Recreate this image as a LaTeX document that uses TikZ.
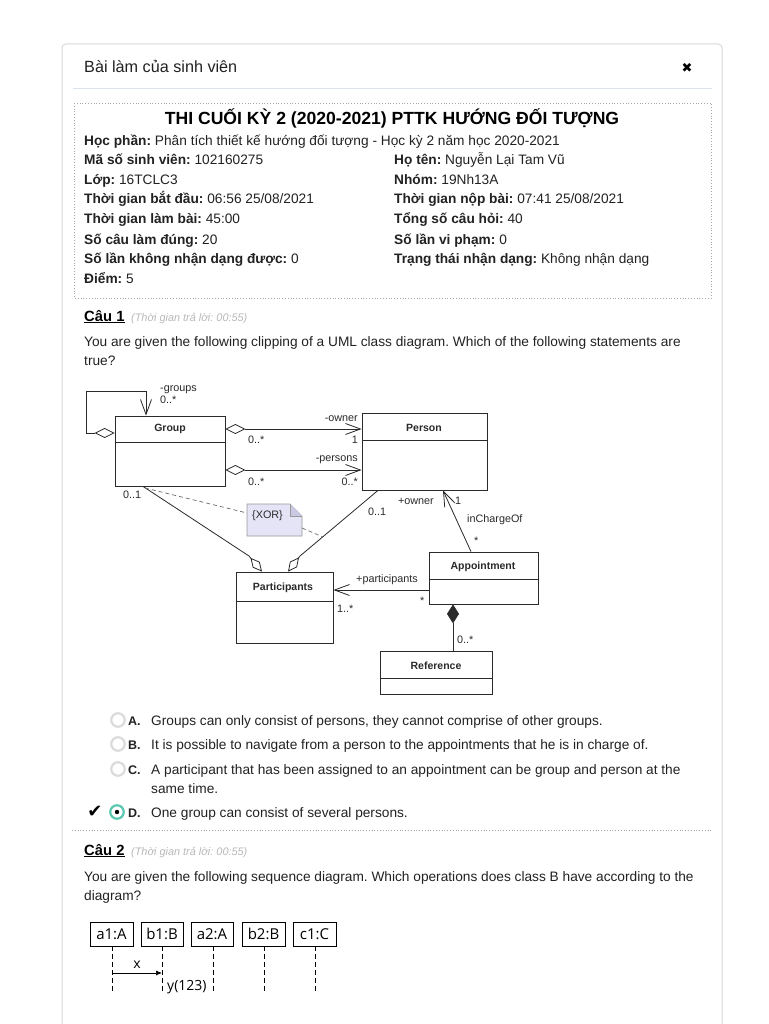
\documentclass[tikz,border=0pt]{standalone}
\usepackage{fontspec}
\setmainfont{Liberation Sans}
\newfontfamily\djv{DejaVu Sans}
\newfontfamily\seqf{Open Sans}
\usetikzlibrary{arrows.meta}
\definecolor{txt}{HTML}{222222}
\definecolor{uml}{HTML}{2A2A2A}
\definecolor{cardline}{HTML}{D6D9DD}
\definecolor{sepline}{HTML}{DDE3EA}
\definecolor{notefill}{HTML}{E4E4F6}
\definecolor{notefold}{HTML}{C9C9E4}
\definecolor{teal}{HTML}{5CC8B2}
\frenchspacing
\begin{document}
\frenchspacing
\begin{tikzpicture}[x=1pt,y=-1pt,
  t13/.style={anchor=base west, inner sep=0pt, font=\fontsize{13.7}{16}\selectfont, text=txt},
  lett/.style={anchor=base west, inner sep=0pt, font=\bfseries\fontsize{12.5}{15}\selectfont, text=txt},
  lbl/.style={anchor=base west, inner sep=0pt, font=\fontsize{10.8}{13}\selectfont, text=uml},
  clsname/.style={inner sep=0pt, font=\bfseries\fontsize{10.5}{12}\selectfont, text=uml},
  cls/.style={draw=uml, line width=0.8pt, inner sep=0pt, fill=white},
  umlline/.style={draw=uml, line width=0.8pt},
  assoc/.style={umlline, -{Straight Barb[length=15pt,width=11pt]}},
  agg/.style={umlline, {Diamond[open,length=20pt,width=10pt]}-{Straight Barb[length=15pt,width=11pt]}},
  xordash/.style={draw=uml!70, line width=0.7pt, dash pattern=on 4pt off 3pt},
  radio/.style={circle, draw=gray!28, line width=2.2pt, minimum size=13.5pt, inner sep=0pt},
  seqbox/.style={draw=black, line width=0.7pt, inner sep=0pt, minimum height=24pt, font=\seqf\fontsize{15}{18}\selectfont},
  lifeline/.style={draw=black, line width=0.7pt, dash pattern=on 5pt off 3pt},
  seqlbl/.style={inner sep=0pt, font=\seqf\fontsize{14}{17}\selectfont}
]
\useasboundingbox (0,0) rectangle (768,1024);
\fill[white] (0,0) rectangle (768,1024);

% card
\draw[cardline, line width=1pt, rounded corners=4pt] (62,44) rectangle (722,1060);
\node[anchor=base west, inner sep=0pt, font=\fontsize{16.2}{19}\selectfont, text=txt] (hdr) at (84,72.5) {Bài làm của sinh viên};
\node[inner sep=0pt, font=\djv\fontsize{13}{15}\selectfont] (close) at (687,68) {✖};
\draw[sepline, line width=1pt] (73,89) -- (712,89);

% info box
\draw[gray!70, line width=0.8pt, dotted] (74,103) rectangle (711,298);
\node[anchor=base, inner sep=0pt, font=\bfseries\fontsize{17.6}{20}\selectfont, text=black] (title) at (392,124.5) {THI CUỐI KỲ 2 (2020-2021) PTTK HƯỚNG ĐỐI TƯỢNG};
\node[t13] (r1) at (84,146) {\textbf{Học phần:} Phân tích thiết kế hướng đối tượng - Học kỳ 2 năm học 2020-2021};
\node[t13] (r2) at (84,165) {\textbf{Mã số sinh viên:} 102160275};
\node[t13] (r3) at (84,185) {\textbf{Lớp:} 16TCLC3};
\node[t13] (r4) at (84,204) {\textbf{Thời gian bắt đầu:} 06:56 25/08/2021};
\node[t13] (r5) at (84,224) {\textbf{Thời gian làm bài:} 45:00};
\node[t13] (r6) at (84,244) {\textbf{Số câu làm đúng:} 20};
\node[t13] (r7) at (84,263) {\textbf{Số lần không nhận dạng được:} 0};
\node[t13] (r8) at (84,283) {\textbf{Điểm:} 5};
\node[t13] (s2) at (394,165) {\textbf{Họ tên:} Nguyễn Lại Tam Vũ};
\node[t13] (s3) at (394,185) {\textbf{Nhóm:} 19Nh13A};
\node[t13] (s4) at (394,204) {\textbf{Thời gian nộp bài:} 07:41 25/08/2021};
\node[t13] (s5) at (394,224) {\textbf{Tổng số câu hỏi:} 40};
\node[t13] (s6) at (394,244) {\textbf{Số lần vi phạm:} 0};
\node[t13] (s7) at (394,263) {\textbf{Trạng thái nhận dạng:} Không nhận dạng};

% question 1
\node[anchor=base west, inner sep=0pt, font=\bfseries\fontsize{14.8}{17}\selectfont, text=black] (q1) at (84,321) {\underline{Câu 1}};
\node[anchor=base west, inner sep=0pt, font=\itshape\fontsize{10.9}{13}\selectfont, text=gray!55] (q1t) at (131,321) {(Thời gian trả lời: 00:55)};
\node[t13] (q1a) at (84,346) {You are given the following clipping of a UML class diagram. Which of the following statements are};
\node[t13] (q1b) at (84,365) {true?};

% UML classes
\node[cls, minimum width=110pt, minimum height=70pt] (group) at (170,451) {};
\draw[umlline] (group.west |- 0,442) -- (group.east |- 0,442);
\node[clsname] (groupn) at (170,429) {Group};

\node[cls, minimum width=125pt, minimum height=77pt] (person) at (424.5,451.5) {};
\draw[umlline] (person.west |- 0,440) -- (person.east |- 0,440);
\node[clsname] (personn) at (424,428) {Person};

\node[cls, minimum width=97pt, minimum height=71pt] (part) at (284.5,607.5) {};
\draw[umlline] (part.west |- 0,601) -- (part.east |- 0,601);
\node[clsname] (partn) at (283,588) {Participants};

\node[cls, minimum width=109pt, minimum height=52pt] (appt) at (483.5,578) {};
\draw[umlline] (appt.west |- 0,579) -- (appt.east |- 0,579);
\node[clsname] (apptn) at (483,567) {Appointment};

\node[cls, minimum width=112pt, minimum height=43pt] (ref) at (436,672.5) {};
\draw[umlline] (ref.west |- 0,678) -- (ref.east |- 0,678);
\node[clsname] (refn) at (436,666) {Reference};

% self loop on Group
\coordinate (lp1) at (86,433);
\coordinate (lp2) at (86,391);
\coordinate (lp3) at (146,391);
\draw[agg] (group.west |- 0,433) -- (lp1) -- (lp2) -- (lp3) -- (group.north -| 146,0);
\node[lbl] (lgroups) at (160,391) {-groups};
\node[lbl] (lgroups2) at (160,403) {0..*};

% Group -> Person
\draw[agg] (group.east |- 0,429) -- (person.west |- 0,429);
\draw[agg] (group.east |- 0,470) -- (person.west |- 0,470);
\node[lbl, anchor=base east] (lowner) at (358,421) {-owner};
\node[lbl, anchor=base east] (lone) at (358,443) {1};
\node[lbl] (lm1) at (248,443) {0..*};
\node[lbl, anchor=base east] (lpersons) at (358,461) {-persons};
\node[lbl, anchor=base east] (lm2) at (358,485) {0..*};
\node[lbl] (lm3) at (248,485) {0..*};

% Group / Person -> Participants (aggregation)
\coordinate (dg) at (249,556);
\coordinate (dp) at (300,556);
\draw[umlline, {Diamond[open,length=18pt,width=9pt]}-] (part.north -| 262,0) -- (dg) -- (group.south -| 143,0);
\draw[umlline, {Diamond[open,length=18pt,width=9pt]}-] (part.north -| 288,0) -- (dp) -- (person.south -| 378,0);
\node[lbl] (l01a) at (123,498) {0..1};
\node[lbl] (l01b) at (368,515) {0..1};

% XOR note
\fill[notefill] (247,504) -- (290,504) -- (302,516) -- (302,536) -- (247,536) -- cycle;
\draw[gray!80, line width=0.6pt] (247,504) -- (290,504) -- (302,516) -- (302,536) -- (247,536) -- cycle;
\fill[notefold] (290,504) -- (290,516) -- (302,516) -- cycle;
\draw[gray!80, line width=0.6pt] (290,504) -- (290,516) -- (302,516);
\node[lbl, text=uml] (xor) at (252,518) {\{XOR\}};
\coordinate (xs) at (145,488);
\coordinate (xe) at (323,537);
\draw[xordash] (xs) -- (247,513);
\draw[xordash] (302,528) -- (xe);

% Appointment -> Person (inChargeOf)
\draw[assoc] (appt.north -| 471,0) -- (person.south -| 443,0);
\node[lbl, anchor=base east] (lplusowner) at (434,504) {+owner};
\node[lbl] (lone2) at (455,504) {1};
\node[lbl] (lincharge) at (467,522) {inChargeOf};
\node[lbl] (lstar1) at (474,544) {*};

% Appointment -> Participants
\draw[assoc] (appt.west |- 0,590) -- (part.east |- 0,590);
\node[lbl] (lplusp) at (356,582) {+participants};
\node[lbl] (l1s) at (337,612) {1..*};
\node[lbl] (lstar2) at (420,604) {*};

% composition Appointment -> Reference
\draw[umlline, {Diamond[length=19pt,width=12pt]}-] (appt.south -| 453,0) -- (ref.north -| 453,0);
\node[lbl] (l0s) at (457,643) {0..*};

% answers
\node[radio] (ra) at (118,720) {};
\node[radio] (rb) at (118,744) {};
\node[radio] (rc) at (118,769) {};
\node[radio, draw=teal] (rd) at (117,812) {};
\fill[black] (rd.center) circle (2.2pt);
\node[inner sep=0pt, font=\djv\fontsize{18}{20}\selectfont] (chk) at (95,812) {✔};
\node[lett] (la) at (128,725) {A.};
\node[lett] (lb) at (128,749) {B.};
\node[lett] (lc) at (128,774) {C.};
\node[lett] (ld) at (128,817) {D.};
\node[t13] (ta) at (151,725) {Groups can only consist of persons, they cannot comprise of other groups.};
\node[t13] (tb) at (151,749) {It is possible to navigate from a person to the appointments that he is in charge of.};
\node[t13] (tc) at (151,774) {A participant that has been assigned to an appointment can be group and person at the};
\node[t13] (tc2) at (151,793) {same time.};
\node[t13] (td) at (151,817) {One group can consist of several persons.};

\draw[gray!70, line width=0.8pt, dotted] (72,830) -- (712,830);

% question 2
\node[anchor=base west, inner sep=0pt, font=\bfseries\fontsize{14.8}{17}\selectfont, text=black] (q2) at (84,855) {\underline{Câu 2}};
\node[anchor=base west, inner sep=0pt, font=\itshape\fontsize{10.9}{13}\selectfont, text=gray!55] (q2t) at (131,855) {(Thời gian trả lời: 00:55)};
\node[t13] (q2a) at (84,881) {You are given the following sequence diagram. Which operations does class B have according to the};
\node[t13] (q2b) at (84,900) {diagram?};

% sequence diagram
\node[seqbox, minimum width=43pt] (a1) at (111.5,934) {a1:A};
\node[seqbox, minimum width=42pt] (b1) at (162,934) {b1:B};
\node[seqbox, minimum width=42pt] (a2) at (212,934) {a2:A};
\node[seqbox, minimum width=43pt] (b2) at (263.5,934) {b2:B};
\node[seqbox, minimum width=43pt] (c1) at (314.5,934) {c1:C};
\coordinate (a1e) at (112,992);
\coordinate (b1e) at (162,992);
\coordinate (a2e) at (213,992);
\coordinate (b2e) at (264,992);
\coordinate (c1e) at (315,992);
\draw[lifeline] (a1.south -| a1e) -- (a1e);
\draw[lifeline] (b1.south -| b1e) -- (b1e);
\draw[lifeline] (a2.south -| a2e) -- (a2e);
\draw[lifeline] (b2.south -| b2e) -- (b2e);
\draw[lifeline] (c1.south -| c1e) -- (c1e);
\draw[black, line width=0.7pt, -{Latex[length=6pt,width=5pt]}] (a1e |- 0,973) -- (b1e |- 0,973);
\node[seqlbl] (mx) at (137,965) {x};
\node[seqlbl, anchor=west] (my) at (167,987) {y(123)};
\end{tikzpicture}
\end{document}
